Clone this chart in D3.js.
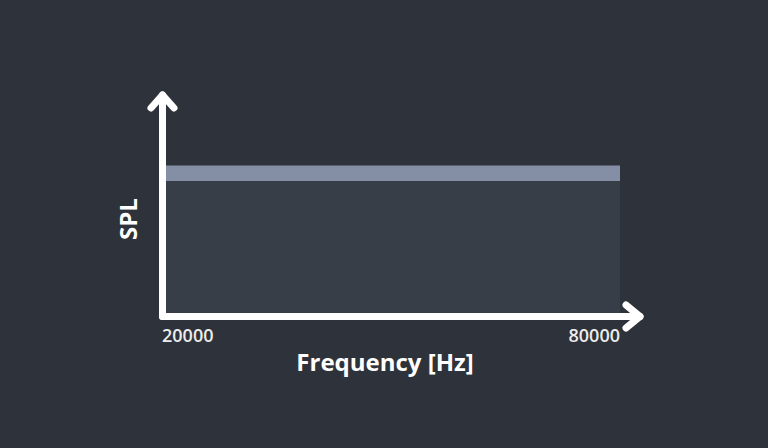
<!DOCTYPE html>
<html>
<head>
<meta charset="utf-8">
<script src="https://cdn.jsdelivr.net/npm/d3@7"></script>
<style>
  html, body { margin: 0; padding: 0; background: #2e323a; }
  svg { display: block; font-family: "Open Sans", sans-serif; }
</style>
</head>
<body>
<div id="chart"></div>
<script>
// data
var freqDomain = [20000, 80000];
var freqTicks = [20000, 80000];
var splDomain = [0, 100];
// flat spectrum: body up to floorLevel, lighter cap up to peakLevel
var spectrum = [
  { f: 20000, floor: 60, peak: 67 },
  { f: 80000, floor: 60, peak: 67 }
];
var xLabel = "Frequency [Hz]";
var yLabel = "SPL";

var width = 768,
    height = 448;

var svg = d3.select("#chart")
            .append("svg")
            .attr("width", width)
            .attr("height", height);

var x = d3.scaleLinear().domain(freqDomain).range([166, 620]);
var y = d3.scaleLinear().domain(splDomain).range([313, 93]);

// filled body
var body = d3.area()
             .x(function (d) { return x(d.f); })
             .y0(y(0))
             .y1(function (d) { return y(d.floor); });

svg.append("path")
   .datum(spectrum)
   .attr("d", body)
   .attr("fill", "#383e47");

// light cap band
var cap = d3.area()
            .x(function (d) { return x(d.f); })
            .y0(function (d) { return y(d.floor); })
            .y1(function (d) { return y(d.peak); });

svg.append("path")
   .datum(spectrum)
   .attr("d", cap)
   .attr("fill", "#848fa6");

// axes with arrow heads
var axisY = 316.5,
    axisX = 162.5;

var axes = svg.append("g")
              .attr("fill", "none")
              .attr("stroke", "#ffffff")
              .attr("stroke-width", 7)
              .attr("stroke-linecap", "round")
              .attr("stroke-linejoin", "round");

axes.append("path")
    .attr("d", "M" + axisX + "," + axisY + "V95");
axes.append("path")
    .attr("d", "M151,108L" + axisX + ",95L174,108");

axes.append("path")
    .attr("d", "M" + axisX + "," + axisY + "H640");
axes.append("path")
    .attr("d", "M626,305L640," + axisY + "L626,328");

// tick labels
svg.selectAll(".tick-label")
   .data(freqTicks)
   .enter()
   .append("text")
   .attr("class", "tick-label")
   .attr("x", function (d, i) { return i === 0 ? x(d) - 4 : x(d); })
   .attr("y", 342)
   .attr("text-anchor", function (d, i) { return i === 0 ? "start" : "end"; })
   .attr("fill", "#ececec")
   .attr("font-size", 18)
   .attr("font-weight", 600)
   .text(function (d) { return d; });

svg.append("text")
   .attr("x", 385)
   .attr("y", 371)
   .attr("text-anchor", "middle")
   .attr("fill", "#ffffff")
   .attr("font-size", 24)
   .attr("font-weight", 700)
   .text(xLabel);

svg.append("text")
   .attr("transform", "translate(137,219) rotate(-90)")
   .attr("text-anchor", "middle")
   .attr("fill", "#ffffff")
   .attr("font-size", 24)
   .attr("font-weight", 700)
   .text(yLabel);
</script>
</body>
</html>
